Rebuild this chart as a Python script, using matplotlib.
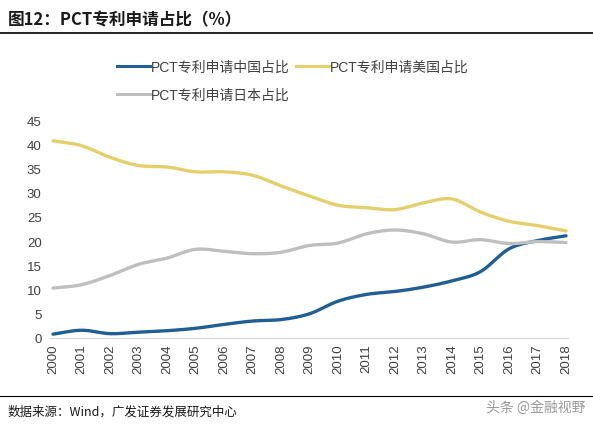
import numpy as np
import matplotlib
matplotlib.use("Agg")
import matplotlib.pyplot as plt
from matplotlib.lines import Line2D

plt.rcParams['font.family'] = ['Liberation Sans', 'Noto Sans CJK SC', 'DejaVu Sans']

years = [str(y) for y in range(2000, 2019)]
china = [0.8, 1.6, 0.9, 1.2, 1.5, 2.0, 2.8, 3.5, 3.8, 5.0, 7.6, 9.0, 9.6, 10.5, 11.8, 13.7, 18.4, 20.1, 21.1]
usa = [40.7, 39.7, 37.3, 35.6, 35.3, 34.3, 34.3, 33.6, 31.4, 29.3, 27.4, 26.9, 26.5, 27.9, 28.7, 26.0, 24.1, 23.2, 22.1]
japan = [10.3, 11.0, 12.9, 15.2, 16.5, 18.3, 17.9, 17.4, 17.7, 19.1, 19.6, 21.5, 22.3, 21.5, 19.8, 20.3, 19.5, 19.9, 19.7]
labels = ["PCT专利申请中国占比", "PCT专利申请美国占比", "PCT专利申请日本占比"]
colors = ["#1f5f94", "#e6cf6b", "#bfbfbf"]


def smooth(x, y, n=20):
    x = np.asarray(x, float); y = np.asarray(y, float)
    xp = np.concatenate([[2 * x[0] - x[1]], x, [2 * x[-1] - x[-2]]])
    yp = np.concatenate([[2 * y[0] - y[1]], y, [2 * y[-1] - y[-2]]])
    xs, ys = [], []
    for i in range(1, len(xp) - 2):
        t = np.linspace(0, 1, n, endpoint=False)
        for arr, out in ((xp, xs), (yp, ys)):
            p0, p1, p2, p3 = arr[i - 1], arr[i], arr[i + 1], arr[i + 2]
            out.extend(0.5 * ((2 * p1) + (-p0 + p2) * t + (2 * p0 - 5 * p1 + 4 * p2 - p3) * t ** 2
                              + (-p0 + 3 * p1 - 3 * p2 + p3) * t ** 3))
    xs.append(x[-1]); ys.append(y[-1])
    return np.array(xs), np.array(ys)


fig = plt.figure(figsize=(5.93, 4.27), dpi=100)
ax = fig.add_axes([50 / 593, (427 - 339) / 427, 518 / 593, 218 / 427])
xi = np.arange(len(years))
for data, c in zip([china, usa, japan], colors):
    sx, sy = smooth(xi, data)
    ax.plot(sx, sy, color=c, lw=2.4, solid_capstyle='round')

ax.set_xlim(-0.105, 18.07)
ax.set_ylim(0, 45)
ax.set_yticks(range(0, 46, 5))
ax.set_xticks(xi)
ax.set_xticklabels(years, rotation=90)
for s in ['top', 'right', 'left']:
    ax.spines[s].set_visible(False)
ax.spines['bottom'].set_color('#d9d9d9')
ax.tick_params(axis='both', length=0, colors='#404040', labelsize=9.5)
ax.tick_params(axis='y', pad=6)
ax.tick_params(axis='x', pad=4)

# legend (column-major fill: china, japan | usa)
handles = [Line2D([0], [0], color=c, lw=2.2) for c in colors]
fig.legend([handles[0], handles[2], handles[1]], [labels[0], labels[2], labels[1]], ncol=2,
           loc='upper left', bbox_to_anchor=(117 / 593, 1 - 61 / 427),
           frameon=False, fontsize=10, handlelength=2.4, columnspacing=0.45,
           handletextpad=0.05, labelspacing=1.0, labelcolor='#404040', borderpad=0,
           borderaxespad=0)

# title and rules
fig.text(8 / 593, 1 - 20 / 427, "图12：PCT专利申请占比（%）", fontsize=12, fontweight='bold',
         va='center', ha='left', color='#1a1a1a', family=['Noto Sans CJK SC', 'DejaVu Sans'])
fig.add_artist(Line2D([0, 1], [1 - 34 / 427, 1 - 34 / 427], color='black', lw=1.2))
fig.add_artist(Line2D([0, 1], [1 - 397 / 427, 1 - 397 / 427], color='black', lw=0.8))
fig.text(8 / 593, 1 - 412 / 427, "数据来源：Wind，广发证券发展研究中心", fontsize=9, va='center',
         ha='left', color='#1a1a1a', family=['Noto Sans CJK SC', 'DejaVu Sans'])
fig.text(585 / 593, 1 - 408 / 427, "头条 @金融视野", fontsize=10, va='center', ha='right',
         color='#9a9a9a', family=['Noto Sans CJK SC', 'DejaVu Sans'])

fig.savefig("out.png", dpi=100)
